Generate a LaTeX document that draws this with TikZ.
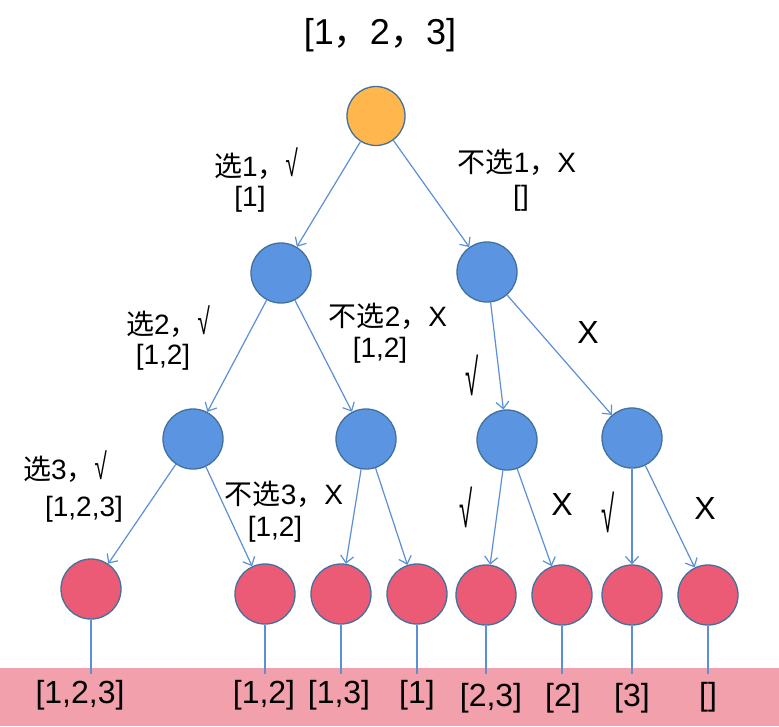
\documentclass[tikz,border=0pt]{standalone}
\usepackage{fontspec}
\usepackage{graphicx}
\setmainfont{Liberation Sans}
\newfontfamily\cjk{Noto Sans CJK SC}
\usetikzlibrary{arrows.meta,shapes.geometric}
\newcommand{\smalltick}{\scalebox{0.8}[1.3]{√}}
\newcommand{\bigtick}{\scalebox{0.75}[1.6]{√}}
\definecolor{rootfill}{RGB}{255,183,77}
\definecolor{bluefill}{RGB}{91,149,226}
\definecolor{redfill}{RGB}{236,91,118}
\definecolor{nodeborder}{RGB}{65,113,156}
\definecolor{edgecol}{RGB}{91,143,214}
\definecolor{bandcol}{RGB}{242,160,172}
\tikzset{
  tnode/.style={ellipse, draw=nodeborder, line width=1.3pt, minimum width=60pt, minimum height=60pt, inner sep=0pt},
  rootnode/.style={tnode, fill=rootfill, minimum width=58pt, minimum height=59pt},
  midnode/.style={tnode, fill=bluefill},
  leafnode/.style={tnode, fill=redfill},
  edge/.style={draw=edgecol, line width=1.2pt, -{Straight Barb[length=7pt,width=13pt,line width=1.2pt]}},
  stem/.style={draw=edgecol, line width=1.2pt},
  lab/.style={inner sep=0pt, anchor=center, font=\fontsize{28}{32}\selectfont},
  biglab/.style={inner sep=0pt, anchor=center, font=\fontsize{32}{36}\selectfont},
  toplab/.style={inner sep=0pt, anchor=center, font=\fontsize{36}{40}\selectfont}
}
\begin{document}
\begin{tikzpicture}[x=1pt,y=-1pt]
\useasboundingbox (0,0) rectangle (779,726);
\fill[white] (0,0) rectangle (779,726);
\fill[bandcol] (0,668) rectangle (779,726);

% nodes
\node[rootnode] (r) at (376,116) {};
\node[midnode] (a) at (281,273) {};
\node[midnode] (b) at (487,272) {};
\node[midnode] (aa) at (193,439) {};
\node[midnode] (ab) at (366,439) {};
\node[midnode] (ba) at (507,440) {};
\node[midnode] (bb) at (632,438) {};
\node[leafnode] (l1) at (91,589) {};
\node[leafnode] (l2) at (265,594) {};
\node[leafnode] (l3) at (341,594) {};
\node[leafnode] (l4) at (417,594) {};
\node[leafnode] (l5) at (486,595) {};
\node[leafnode] (l6) at (562,595) {};
\node[leafnode] (l7) at (632,595) {};
\node[leafnode] (l8) at (708,595) {};

% edges
\draw[edge] (r) -- (a);
\draw[edge] (r) -- (b);
\draw[edge] (a) -- (aa);
\draw[edge] (a) -- (ab);
\draw[edge] (b) -- (ba);
\draw[edge] (b) -- (bb);
\draw[edge] (aa) -- (l1);
\draw[edge] (aa) -- (l2);
\draw[edge] (ab) -- (l3);
\draw[edge] (ab) -- (l4);
\draw[edge] (ba) -- (l5);
\draw[edge] (ba) -- (l6);
\draw[edge] (bb) -- (l7);
\draw[edge] (bb) -- (l8);

% stems to the result band
\coordinate (e1) at (91,674);
\coordinate (e2) at (265,674);
\coordinate (e3) at (341,674);
\coordinate (e4) at (417,674);
\coordinate (e5) at (486,674);
\coordinate (e6) at (562,674);
\coordinate (e7) at (632,674);
\coordinate (e8) at (708,674);
\draw[stem] (l1) -- (e1);
\draw[stem] (l2) -- (e2);
\draw[stem] (l3) -- (e3);
\draw[stem] (l4) -- (e4);
\draw[stem] (l5) -- (e5);
\draw[stem] (l6) -- (e6);
\draw[stem] (l7) -- (e7);
\draw[stem] (l8) -- (e8);

% labels
\node[toplab] (t0) at (380,35) {[1{\cjk ，}2{\cjk ，}3]};
\node[lab] (t1) at (256,164) {{\cjk 选}1{\cjk ，}\smalltick};
\node[lab] (t1b) at (250,199) {[1]};
\node[lab] (t2) at (517,162) {{\cjk 不选}1{\cjk ，}X};
\node[lab] (t2b) at (521,198) {[]};
\node[lab] (t3) at (168,322) {{\cjk 选}2{\cjk ，}\smalltick};
\node[lab] (t3b) at (163,357) {[1,2]};
\node[lab] (t4) at (388,316) {{\cjk 不选}2{\cjk ，}X};
\node[lab] (t4b) at (380,350) {[1,2]};
\node[biglab] (t5) at (588,332) {X};
\node[biglab] (t6) at (472,375) {\bigtick};
\node[lab] (t7) at (65,467) {{\cjk 选}3{\cjk ，}\smalltick};
\node[lab] (t7b) at (84,509) {[1,2,3]};
\node[lab] (t8) at (284,494) {{\cjk 不选}3{\cjk ，}X};
\node[lab] (t8b) at (275,529) {[1,2]};
\node[biglab] (t9) at (466,507) {\bigtick};
\node[biglab] (t10) at (562,504) {X};
\node[biglab] (t11) at (608,512) {\bigtick};
\node[biglab] (t12) at (705,508) {X};

% results
\node[biglab] (r1) at (80,695) {[1,2,3]};
\node[biglab] (r2) at (264,695) {[1,2]};
\node[biglab] (r3) at (339,695) {[1,3]};
\node[biglab] (r4) at (417,695) {[1]};
\node[biglab] (r5) at (491,698) {[2,3]};
\node[biglab] (r6) at (563,698) {[2]};
\node[biglab] (r7) at (632,698) {[3]};
\node[biglab] (r8) at (708,697) {[]};
\end{tikzpicture}
\end{document}
